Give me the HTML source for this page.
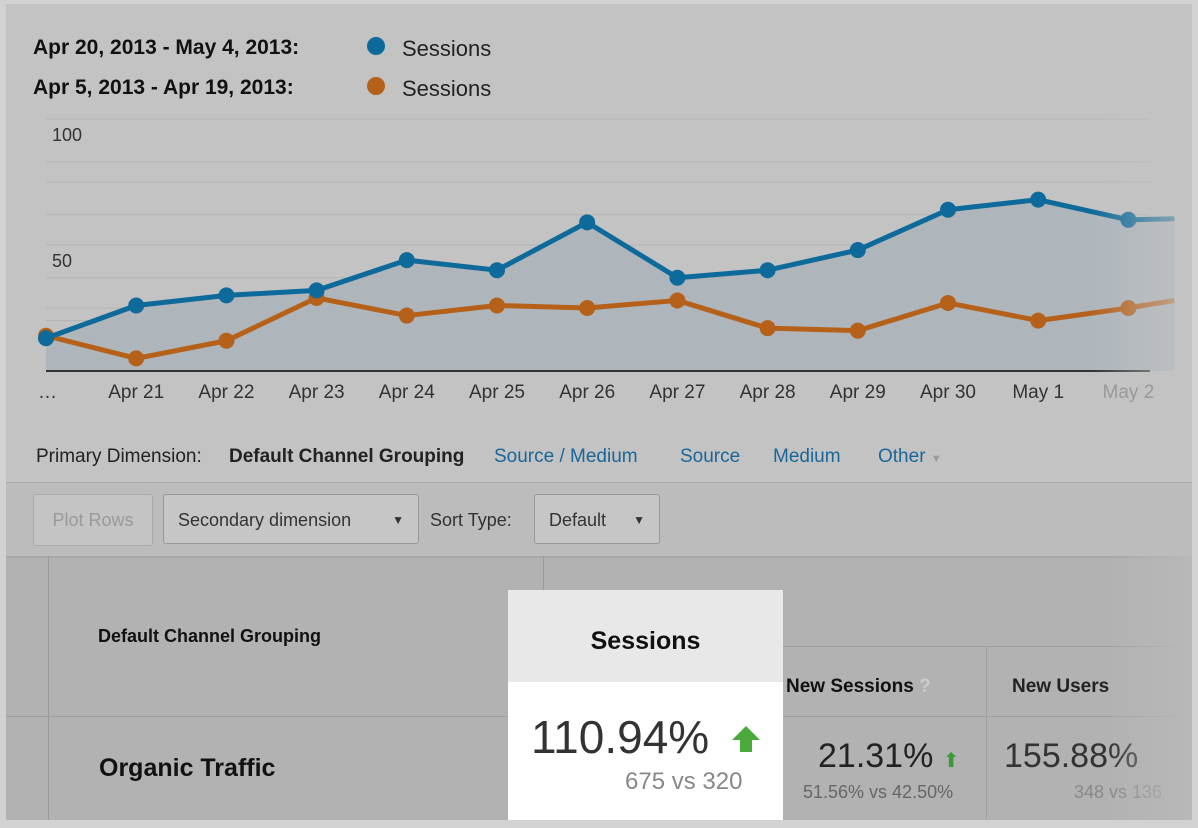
<!DOCTYPE html>
<html><head><meta charset="utf-8"><style>
body{margin:0;width:1198px;height:828px;overflow:hidden;background:#d2d2d2;font-family:"Liberation Sans",sans-serif;}
#frame{position:absolute;left:6px;top:4px;width:1186px;height:816px;background:#c3c3c3;overflow:hidden}
.t{position:absolute;white-space:nowrap}
</style></head><body>
<div id="frame">
<div class="t" style="left:27px;top:32px;font-size:21px;font-weight:bold;color:#111">Apr 20, 2013 - May 4, 2013:</div>
<div class="t" style="left:27px;top:72px;font-size:21px;font-weight:bold;color:#111">Apr 5, 2013 - Apr 19, 2013:</div>
<div style="position:absolute;left:361px;top:33px;width:18px;height:18px;border-radius:50%;background:#0d6a9a"></div>
<div style="position:absolute;left:361px;top:73px;width:18px;height:18px;border-radius:50%;background:#b5611a"></div>
<div class="t" style="left:396px;top:32px;font-size:22px;color:#222">Sessions</div>
<div class="t" style="left:396px;top:72px;font-size:22px;color:#222">Sessions</div>

<svg id="chart" style="position:absolute;left:-6px;top:-4px" width="1198" height="430">
<defs><linearGradient id="fade" x1="0" x2="1"><stop offset="0" stop-color="#c3c3c3" stop-opacity="0"/><stop offset="1" stop-color="#c3c3c3" stop-opacity="1"/></linearGradient></defs>
<g id="grid"></g><g id="area"></g><g id="lines"></g><g id="xlab"></g>
<rect x="1090" y="100" width="100" height="280" fill="url(#fade)" opacity="0.75"/>
</svg>

<div class="t" style="left:30px;top:442px;font-size:19px;color:#222">Primary Dimension:</div>
<div class="t" style="left:223px;top:442px;font-size:19px;font-weight:bold;color:#222">Default Channel Grouping</div>
<div class="t" style="left:488px;top:442px;font-size:19px;color:#1a6699">Source / Medium</div>
<div class="t" style="left:674px;top:442px;font-size:19px;color:#1a6699">Source</div>
<div class="t" style="left:767px;top:442px;font-size:19px;color:#1a6699">Medium</div>
<div class="t" style="left:872px;top:442px;font-size:19px;color:#1a6699">Other <span style="font-size:11px;color:#999">▼</span></div>
<div style="position:absolute;left:0;top:478px;width:1186px;height:74px;background:#bcbcbc;border-top:1px solid #aaa"></div>
<div class="t" style="left:27px;top:490px;width:118px;height:50px;border:1px solid #aaa;border-radius:3px;background:#c4c4c4;color:#999;font-size:18px;line-height:50px;text-align:center">Plot Rows</div>
<div class="t" style="left:157px;top:490px;width:256px;height:50px;border:1px solid #999;border-radius:3px;background:#c6c6c6;color:#333;font-size:18px;line-height:50px;padding-left:14px;box-sizing:border-box">Secondary dimension <span style="position:absolute;right:14px;font-size:12px">▼</span></div>
<div class="t" style="left:424px;top:506px;font-size:18px;color:#333">Sort Type:</div>
<div class="t" style="left:528px;top:490px;width:126px;height:50px;border:1px solid #999;border-radius:3px;background:#c6c6c6;color:#333;font-size:18px;line-height:50px;padding-left:14px;box-sizing:border-box">Default <span style="position:absolute;right:14px;font-size:12px">▼</span></div>

<div style="position:absolute;left:0;top:552px;width:1186px;height:270px;background:#b2b2b2;border-top:2px solid #a8a8a8"></div>
<div style="position:absolute;left:42px;top:552px;width:1px;height:270px;background:#999"></div>
<div style="position:absolute;left:537px;top:552px;width:1px;height:160px;background:#999"></div>
<div style="position:absolute;left:0;top:712px;width:1186px;height:1px;background:#a0a0a0"></div>
<div style="position:absolute;left:777px;top:642px;width:409px;height:1px;background:#a0a0a0"></div>
<div style="position:absolute;left:980px;top:642px;width:1px;height:180px;background:#a0a0a0"></div>
<div class="t" style="left:92px;top:622px;font-size:18px;font-weight:bold;color:#111">Default Channel Grouping</div>
<div class="t" style="left:93px;top:750px;font-size:25px;font-weight:bold;color:#111">Organic Traffic</div>
<div style="position:absolute;left:502px;top:586px;width:275px;height:236px;background:#fff"></div>
<div style="position:absolute;left:502px;top:586px;width:275px;height:92px;background:#e8e8e8"></div>
<div class="t" style="left:502px;top:623px;width:275px;text-align:center;font-size:25px;font-weight:bold;color:#111">Sessions</div>
<div class="t" style="left:525px;top:706px;font-size:46px;color:#333">110.94%</div>
<svg class="t" style="left:725px;top:720px" width="30" height="30"><polygon points="15,2 29,16 21,16 21,28 9,28 9,16 1,16" fill="#4caa3c"/></svg>
<div class="t" style="left:619px;top:764px;font-size:24px;color:#888">675 vs 320</div>
<div class="t" style="left:780px;top:672px;font-size:19px;font-weight:bold;color:#111">New Sessions <span style="color:#ccc">?</span></div>
<div class="t" style="left:1006px;top:672px;font-size:19px;font-weight:bold;color:#222">New Users</div>
<div class="t" style="left:812px;top:733px;font-size:34px;color:#222">21.31% <span style="font-size:20px;color:#3a9a3a">⬆</span></div>
<div class="t" style="left:797px;top:778px;font-size:18px;color:#666">51.56% vs 42.50%</div>
<div class="t" style="left:998px;top:733px;font-size:34px;color:#333">155.88%</div>
<div class="t" style="left:1068px;top:778px;font-size:18px;color:#888">348 vs 136</div>
<div style="position:absolute;left:1100px;top:552px;width:86px;height:270px;background:linear-gradient(90deg,rgba(178,178,178,0),#b8b8b8)"></div>
</div>
<script>
const categories=["…","Apr 21","Apr 22","Apr 23","Apr 24","Apr 25","Apr 26","Apr 27","Apr 28","Apr 29","Apr 30","May 1","May 2"];
const currentSessions=[13,26,30,32,44,40,59,37,40,48,64,68,60];
const previousSessions=[14,5,12,29,22,26,25,28,17,16,27,20,25];
const yTicks=[50,100];
const x0=46,dx=90.2,yBase=371,yScale=2.52;
const X=i=>x0+i*dx, Y=v=>yBase-v*yScale;
const NS="http://www.w3.org/2000/svg";
function mk(tag,attrs,parent){const e=document.createElementNS(NS,tag);for(const k in attrs)e.setAttribute(k,attrs[k]);parent.appendChild(e);return e;}
const grid=document.getElementById('grid');
[12,20,25,37,50,62,75,83,100].forEach(v=>{const l=mk('line',{x1:46,x2:1150,y1:Y(v),y2:Y(v),stroke:'#b4b4b4','stroke-width':1},grid);

});
yTicks.forEach(v=>{const t=mk('text',{x:52,y:Y(v)+22,'font-size':18,fill:'#333','font-family':'Liberation Sans'},grid);t.textContent=v;

});
const last=X(categories.length-1)+46;
let pts=currentSessions.map((v,i)=>X(i)+','+Y(v));
const extC=Y(currentSessions[currentSessions.length-1]+0.4), extP=Y(previousSessions[previousSessions.length-1]+3);
const area=mk('polygon',{points:pts.join(' ')+' '+last+','+extC+' '+last+','+yBase+' '+x0+','+yBase,fill:'#aeb6bc'},document.getElementById('area'));


const ax=mk('line',{x1:46,x2:1150,y1:yBase,y2:yBase,stroke:'#333','stroke-width':2},document.getElementById('area'));


const lines=document.getElementById('lines');
[[previousSessions,'#b5611a','previous',extP],[currentSessions,'#0d6a9a','current',extC]].forEach(([d,c,n,ext])=>{
 const p=mk('polyline',{points:d.map((v,i)=>X(i)+','+Y(v)).join(' ')+' '+last+','+ext,fill:'none',stroke:c,'stroke-width':5,'stroke-linejoin':'round'},lines);
 
 
 d.forEach((v,i)=>{const m=mk('circle',{cx:X(i),cy:Y(v),r:8,fill:c},lines);
 
 });
});
const xl=document.getElementById('xlab');
categories.forEach((c,i)=>{const t=mk('text',{x:i==0?X(i)-8:X(i),y:398,'font-size':19,fill:i==12?'#999':'#333','text-anchor':i==0?'start':'middle','font-family':'Liberation Sans'},xl);t.textContent=c;

});
</script>
</body></html>
